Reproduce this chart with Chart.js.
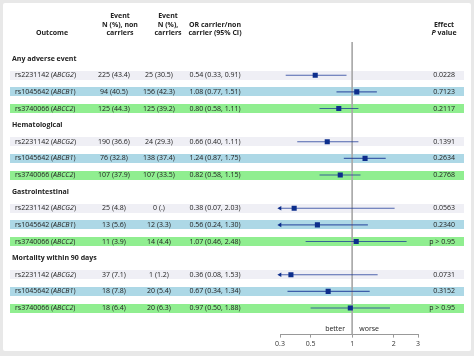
<!DOCTYPE html>
<html><head><meta charset="utf-8">
<script src="https://cdn.jsdelivr.net/npm/chart.js@4/dist/chart.umd.min.js"></script>
<style>
html,body{margin:0;padding:0;background:#e8e8e8;width:474px;height:356px;overflow:hidden}
#panel{position:absolute;left:3px;top:3px;width:468px;height:348px;background:#fff;border-radius:2px}
canvas{position:absolute;left:0;top:0}
</style></head><body><div id="panel"></div><canvas id="c" width="474" height="356"></canvas>
<script>
const sections = ["Any adverse event", "Hematological", "Gastrointestinal", "Mortality within 90 days"];
const snps = ["rs2231142", "rs1045642", "rs3740066"];
const genes = ["ABCG2", "ABCB1", "ABCC2"];
const nonCarriers = ["225 (43.4)","94 (40.5)","125 (44.3)","190 (36.6)","76 (32.8)","107 (37.9)","25 (4.8)","13 (5.6)","11 (3.9)","37 (7.1)","18 (7.8)","18 (6.4)"];
const carriers = ["25 (30.5)","156 (42.3)","125 (39.2)","24 (29.3)","138 (37.4)","107 (33.5)","0 (.)","12 (3.3)","14 (4.4)","1 (1.2)","20 (5.4)","20 (6.3)"];
const orValues = [0.54,1.08,0.80,0.66,1.24,0.82,0.38,0.56,1.07,0.36,0.67,0.97];
const ciLow = [0.33,0.77,0.58,0.40,0.87,0.58,0.07,0.24,0.46,0.08,0.34,0.50];
const ciHigh = [0.91,1.51,1.11,1.11,1.75,1.15,2.03,1.30,2.48,1.53,1.34,1.88];
const pValues = ["0.0228","0.7123","0.2117","0.1391","0.2634","0.2768","0.0563","0.2340","p > 0.95","0.0731","0.3152","p > 0.95"];
const xTicks = [0.3, 0.5, 1, 2, 3];

const bandColors = ["#efeff5", "#add8e6", "#90ee90"];
const markerColor = "#0d2e8c";
const lineColor = "rgba(25,55,150,0.75)";
const FONT = "'Open Sans', sans-serif";
const xMin = xTicks[0], xMax = xTicks[xTicks.length - 1];
const yMaxVal = 16.6;

// row index layout: section header then 3 snp rows
const rowY = [];
const sectionY = [];
sections.forEach((s, si) => {
  sectionY.push(si * 4);
  for (let k = 0; k < 3; k++) rowY.push(si * 4 + k + 1);
});

const datasets = [];
datasets.push({
  label: 'markers', order: 0,
  data: orValues.map((v, i) => ({x: v, y: rowY[i]})),
  pointStyle: 'rect', pointRadius: 3.6, backgroundColor: markerColor, borderColor: markerColor, borderWidth: 0, showLine: false
});
datasets.push({
  label: 'arrows', order: 0, clip: false,
  data: ciLow.map((v, i) => v < xMin ? {x: xMin, y: rowY[i]} : null).filter(d => d),
  pointStyle: 'triangle', rotation: -90, pointRadius: 2.6, backgroundColor: markerColor, borderColor: markerColor, borderWidth: 0, showLine: false
});
orValues.forEach((v, i) => {
  datasets.push({
    label: 'ci' + i, order: 1,
    data: [{x: ciLow[i], y: rowY[i]}, {x: ciHigh[i], y: rowY[i]}],
    showLine: true, borderColor: lineColor, borderWidth: 1.2, pointRadius: 0
  });
});
datasets.push({
  label: 'ref', order: 2,
  data: [{x: 1, y: -1}, {x: 1, y: yMaxVal}],
  showLine: true, borderColor: '#a9a9a9', borderWidth: 1, pointRadius: 0
});

function richText(ctx, parts, x, y, align) {
  let total = 0;
  parts.forEach(p => { ctx.font = p.font; total += ctx.measureText(p.t).width; });
  let cx = align === 'center' ? x - total / 2 : (align === 'right' ? x - total : x);
  ctx.textAlign = 'left';
  parts.forEach(p => { ctx.font = p.font; ctx.fillText(p.t, cx, y); cx += ctx.measureText(p.t).width; });
}

const tablePlugin = {
  id: 'table',
  beforeDatasetsDraw(chart) {
    const ctx = chart.ctx, ys = chart.scales.y;
    ctx.save();
    rowY.forEach((r, i) => {
      const y = ys.getPixelForValue(r);
      ctx.fillStyle = bandColors[i % 3];
      ctx.fillRect(10, Math.round(y - 4.5), 454, 9);
    });
    ctx.restore();
  },
  afterDraw(chart) {
    const ctx = chart.ctx, ys = chart.scales.y, xs = chart.scales.x;
    ctx.save();
    ctx.fillStyle = '#222';
    ctx.textBaseline = 'middle';
    const norm = "7px " + FONT, bold = "bold 7px " + FONT, ital = "italic 7px " + FONT, boldItal = "italic bold 7px " + FONT;
    // headers
    ctx.font = bold; ctx.textAlign = 'center';
    ctx.fillText("Outcome", 52, 33);
    ctx.fillText("Event", 120, 16); ctx.fillText("N (%), non", 120, 25); ctx.fillText("carriers", 120, 33);
    ctx.fillText("Event", 168, 16); ctx.fillText("N (%),", 168, 25); ctx.fillText("carriers", 168, 33);
    ctx.fillText("OR carrier/non", 215, 25); ctx.fillText("carrier (95% CI)", 215, 33);
    ctx.fillText("Effect", 444, 25);
    richText(ctx, [{t: "P", font: boldItal}, {t: " value", font: bold}], 444, 33, 'center');
    // sections
    sections.forEach((s, si) => {
      ctx.font = bold; ctx.textAlign = 'left';
      ctx.fillText(s, 12, ys.getPixelForValue(sectionY[si]));
    });
    rowY.forEach((r, i) => {
      const y = ys.getPixelForValue(r);
      ctx.fillStyle = '#222';
      richText(ctx, [{t: snps[i % 3] + " (", font: norm}, {t: genes[i % 3], font: ital}, {t: ")", font: norm}], 15, y, 'left');
      ctx.font = norm; ctx.textAlign = 'center';
      ctx.fillText(nonCarriers[i], 114, y);
      ctx.fillText(carriers[i], 159, y);
      ctx.fillText(orValues[i].toFixed(2) + " (" + ciLow[i].toFixed(2) + ", " + ciHigh[i].toFixed(2) + ")", 215, y);
      ctx.textAlign = 'right';
      ctx.fillText(pValues[i], 455, y);
    });
    // better / worse
    ctx.font = norm; ctx.textAlign = 'center';
    const yb = ys.getPixelForValue(yMaxVal) - 6;
    ctx.fillText("better", xs.getPixelForValue(1) - 17, yb);
    ctx.fillText("worse", xs.getPixelForValue(1) + 17, yb);
    ctx.restore();
  }
};

new Chart(document.getElementById('c'), {
  type: 'scatter',
  data: {datasets},
  plugins: [tablePlugin],
  options: {
    responsive: false, animation: false, devicePixelRatio: 1,
    layout: {padding: {left: 280, right: 56, top: 42, bottom: 6}},
    plugins: {legend: {display: false}, tooltip: {enabled: false}},
    scales: {
      x: {
        type: 'logarithmic', min: xMin, max: xMax,
        afterBuildTicks: (s) => { s.ticks = xTicks.map(v => ({value: v})); },
        ticks: {font: {size: 7, family: FONT}, color: '#333', padding: 2, maxRotation: 0, autoSkip: false,
          callback: (v) => String(v)},
        grid: {drawOnChartArea: false, drawTicks: true, tickLength: 3, color: '#999'},
        border: {display: true, color: '#999', width: 1}
      },
      y: {type: 'linear', reverse: true, min: -1, max: yMaxVal, display: false}
    }
  }
});
</script></body></html>
